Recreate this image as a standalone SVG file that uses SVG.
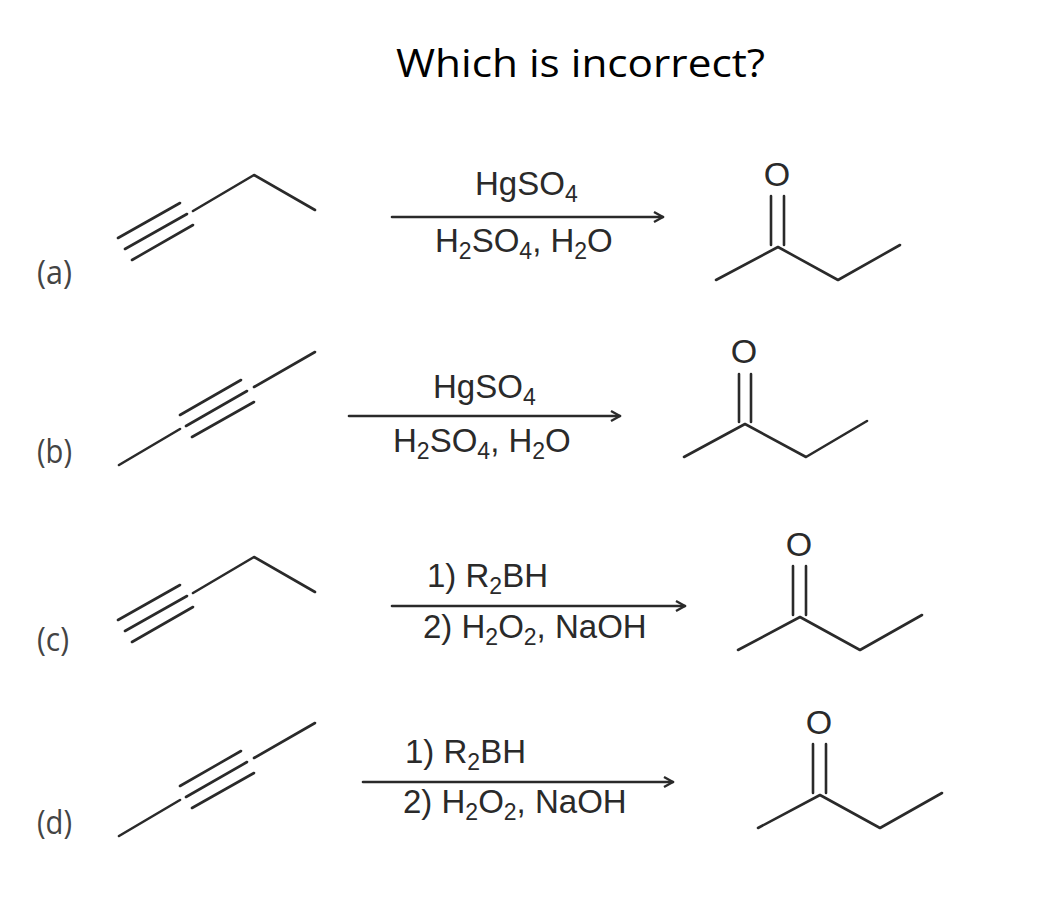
<svg xmlns="http://www.w3.org/2000/svg" width="1044" height="918" viewBox="0 0 1044 918">
<style>
.b{stroke:#2a2a2a;stroke-width:2.6;fill:none;stroke-linecap:round;stroke-linejoin:round}
.r{font-family:"Liberation Sans",Arial,sans-serif;font-size:33px;fill:#2a2a2a}
.o{font-family:"Liberation Sans",Arial,sans-serif;font-size:34px;fill:#2a2a2a;text-anchor:middle}
.l{font-family:"Open Sans","Noto Sans",sans-serif;font-size:33px;fill:#444}
.t{font-family:"Open Sans","Noto Sans",sans-serif;font-size:39px;fill:#000}
.s{font-size:23px}
</style>
<defs>
<marker id="ah" markerWidth="14" markerHeight="14" refX="12" refY="7" orient="auto" markerUnits="userSpaceOnUse">
<path d="M3,2 L12,7 L3,12" fill="none" stroke="#2a2a2a" stroke-width="2.4" stroke-linejoin="round"/>
</marker>
</defs>
<rect width="1044" height="918" fill="#fff"/>
<text class="t" x="396" y="77" textLength="369" lengthAdjust="spacingAndGlyphs">Which is incorrect?</text>

<g id="label-a"><text class="l" x="37" y="284" textLength="35" lengthAdjust="spacingAndGlyphs">(a)</text></g>
<g id="label-b"><text class="l" x="37" y="463" textLength="35" lengthAdjust="spacingAndGlyphs">(b)</text></g>
<g id="label-c"><text class="l" x="37" y="651" textLength="32" lengthAdjust="spacingAndGlyphs">(c)</text></g>
<g id="label-d"><text class="l" x="37" y="834" textLength="35" lengthAdjust="spacingAndGlyphs">(d)</text></g>

<g id="alkyne-a" class="b">
<path d="M118,238 L180,203 M125,249 L187,214 M132,260 L193,225 M193,211 L254,175 L315,210"/>
</g>
<g id="alkyne-b" class="b">
<path d="M119,465 L180,429 M180,415 L241,380 M186,426 L247,391 M192,437 L254,402 M254,387 L315,352"/>
</g>
<g id="alkyne-c" class="b" transform="translate(0,382)">
<path d="M118,238 L180,203 M125,249 L187,214 M132,260 L193,225 M193,211 L254,175 L315,210"/>
</g>
<g id="alkyne-d" class="b" transform="translate(0,371)">
<path d="M119,465 L180,429 M180,415 L241,380 M186,426 L247,391 M192,437 L254,402 M254,387 L315,352"/>
</g>

<g id="ketone-a">
<path class="b" d="M771,196 L771,245 M784,196 L784,245 M716,280 L778,247 L838,280 L900,245"/>
<text class="o" x="777" y="186">O</text>
</g>
<g id="ketone-b">
<path class="b" d="M739,374 L739,422 M751,374 L751,422 M684,457 L745,424 L806,457 L867,421"/>
<text class="o" x="744" y="363">O</text>
</g>
<g id="ketone-c" transform="translate(22,370)">
<path class="b" d="M771,196 L771,245 M784,196 L784,245 M716,280 L778,247 L838,280 L900,245"/>
<text class="o" x="777" y="186">O</text>
</g>
<g id="ketone-d" transform="translate(42,548)">
<path class="b" d="M771,196 L771,245 M784,196 L784,245 M716,280 L778,247 L838,280 L900,245"/>
<text class="o" x="777" y="186">O</text>
</g>

<g id="connectors" class="b">
<line x1="392" y1="217" x2="663" y2="217" marker-end="url(#ah)"/>
<line x1="349" y1="416" x2="620" y2="416" marker-end="url(#ah)"/>
<line x1="392" y1="606" x2="685" y2="606" marker-end="url(#ah)"/>
<line x1="363" y1="782" x2="673" y2="782" marker-end="url(#ah)"/>
</g>

<g id="reagents">
<text class="r" x="475" y="195">HgSO<tspan class="s" dy="7">4</tspan></text>
<text class="r" x="435" y="252">H<tspan class="s" dy="7">2</tspan><tspan dy="-7">SO</tspan><tspan class="s" dy="7">4</tspan><tspan dy="-7">, H</tspan><tspan class="s" dy="7">2</tspan><tspan dy="-7">O</tspan></text>
<text class="r" x="433" y="398">HgSO<tspan class="s" dy="7">4</tspan></text>
<text class="r" x="393" y="452">H<tspan class="s" dy="7">2</tspan><tspan dy="-7">SO</tspan><tspan class="s" dy="7">4</tspan><tspan dy="-7">, H</tspan><tspan class="s" dy="7">2</tspan><tspan dy="-7">O</tspan></text>
<text class="r" x="427" y="587">1) R<tspan class="s" dy="7">2</tspan><tspan dy="-7">BH</tspan></text>
<text class="r" x="423" y="638">2) H<tspan class="s" dy="7">2</tspan><tspan dy="-7">O</tspan><tspan class="s" dy="7">2</tspan><tspan dy="-7">, NaOH</tspan></text>
<text class="r" x="405" y="763">1) R<tspan class="s" dy="7">2</tspan><tspan dy="-7">BH</tspan></text>
<text class="r" x="403" y="813">2) H<tspan class="s" dy="7">2</tspan><tspan dy="-7">O</tspan><tspan class="s" dy="7">2</tspan><tspan dy="-7">, NaOH</tspan></text>
</g>
</svg>
